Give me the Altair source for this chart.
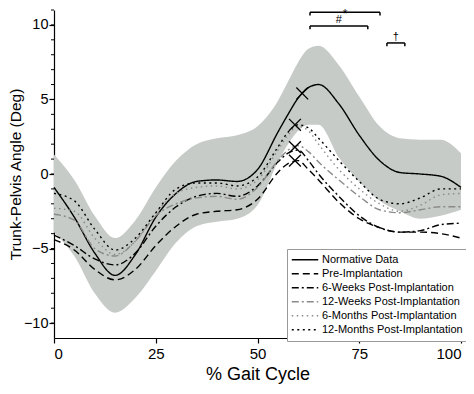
import altair as alt
import pandas as pd

# ---- data ----
x_pct = [0, 5, 10, 15, 20, 25, 30, 35, 40, 45, 50, 55, 57.5, 60, 62.5, 65, 70, 75, 80, 85, 90, 95, 100]

normative = [-0.9, -2.9, -5.3, -6.8, -5.4, -2.9, -1.3, -0.5, -0.4, -0.5, 0.3, 2.8, 4.0, 5.1, 5.8, 6.0, 4.7, 2.6, 0.9, 0.1, 0.0, -0.15, -0.9]
sd_upper = [1.3, -0.4, -2.8, -4.3, -3.1, -0.9, 0.9, 2.0, 2.4, 2.6, 3.2, 4.9, 6.2, 7.5, 8.4, 8.6, 7.3, 5.2, 3.2, 2.4, 2.3, 2.3, 1.4]
sd_lower = [-3.9, -5.5, -8.0, -9.3, -8.3, -6.5, -4.6, -3.5, -3.2, -3.0, -2.1, 0.8, 2.0, 2.9, 3.3, 3.3, 1.1, -0.5, -1.8, -2.5, -3.0, -2.8, -2.4]

pre_impl = [-4.4, -5.1, -6.4, -7.1, -6.4, -4.8, -3.5, -2.7, -2.5, -2.4, -1.7, 0.1, 0.7, 0.9, 0.3, -0.4, -1.9, -3.0, -3.6, -3.9, -3.9, -4.0, -4.3]
wk6 = [-4.1, -4.8, -5.7, -6.1, -5.3, -3.5, -2.2, -1.5, -1.3, -1.5, -0.8, 0.8, 1.4, 1.6, 0.9, 0.0, -1.5, -2.8, -3.6, -3.9, -3.8, -3.4, -3.3]
wk12 = [-2.7, -3.1, -5.0, -5.5, -4.5, -2.8, -2.0, -1.6, -1.5, -1.7, -0.9, 0.9, 1.6, 1.9, 1.5, 0.8, -0.4, -1.5, -2.4, -2.6, -2.4, -2.2, -2.2]
mo6 = [-2.3, -2.5, -4.3, -5.4, -4.5, -2.6, -1.3, -0.9, -0.8, -1.0, -0.4, 1.6, 2.6, 3.2, 2.9, 2.0, 0.3, -1.0, -2.0, -2.5, -2.1, -1.4, -1.3]
mo12 = [-1.3, -1.8, -3.7, -5.1, -4.3, -2.6, -1.0, -0.6, -0.6, -0.8, -0.2, 1.8, 2.8, 3.3, 3.1, 2.4, 0.9, -0.5, -1.7, -2.0, -1.6, -1.0, -1.0]

series_names = ["Normative Data", "Pre-Implantation", "6-Weeks Post-Implantation",
                "12-Weeks Post-Implantation", "6-Months Post-Implantation",
                "12-Months Post-Implantation"]
series_values = [normative, pre_impl, wk6, wk12, mo6, mo12]
series_colors = ["#000000", "#000000", "#000000", "#8a8a8a", "#8a8a8a", "#000000"]
series_dashes = [[1, 0], [7, 4], [7, 3, 2, 3], [7, 3, 2, 3], [1.5, 3.5], [2, 3.5]]

marker_x = [61, 59.2, 59.2, 59.2]
marker_y = [5.4, 3.3, 1.8, 0.9]

bracket_label = ["*", "#", "\u2020"]
bracket_start = [62.9, 62.9, 81.8]
bracket_end = [80.1, 77.1, 86.2]
bracket_y = [10.85, 9.93, 8.79]

y_minor = list(range(-10, 12))

# ---- tables ----
rows = []
for name, vals in zip(series_names, series_values):
    for xv, yv in zip(x_pct, vals):
        rows.append({"x": xv, "y": yv, "series": name})
lines_df = pd.DataFrame(rows)
band_df = pd.DataFrame({"x": x_pct, "upper": sd_upper, "lower": sd_lower})
marker_df = pd.DataFrame({"x": marker_x, "y": marker_y})
br_df = pd.DataFrame({"label": bracket_label, "x1": bracket_start, "x2": bracket_end,
                      "y": bracket_y})
br_df["ytick"] = br_df["y"] - 0.22
br_df["xm"] = (br_df["x1"] + br_df["x2"]) / 2
minor_df = pd.DataFrame({"v": y_minor})

FONT = "Liberation Sans"
xscale = alt.Scale(domain=[0, 100], nice=False, zero=False)
yscale = alt.Scale(domain=[-11, 11], nice=False, zero=False)

x_axis = alt.Axis(values=[0, 25, 50, 75, 100], title="% Gait Cycle", grid=False,
                  tickSize=5, labelPadding=3, labelFontSize=15, titleFontSize=18,
                  titleFontWeight="normal", titlePadding=4, labelFont=FONT, titleFont=FONT,
                  domainColor="black", tickColor="black", labelColor="black", titleColor="black")
y_axis = alt.Axis(values=[-10, -5, 0, 5, 10], title="Trunk-Pelvis Angle (Deg)", grid=False,
                  tickSize=5, labelPadding=1, labelFontSize=14.5, titleFontSize=15.5,
                  titleFontWeight="normal", titlePadding=0, labelFont=FONT, titleFont=FONT,
                  domainColor="black", tickColor="black", labelColor="black", titleColor="black")

band = alt.Chart(band_df).mark_area(color="#c6cbc8", interpolate="monotone").encode(
    x=alt.X("x:Q", scale=xscale, axis=x_axis),
    y=alt.Y("upper:Q", scale=yscale, axis=y_axis),
    y2="lower:Q",
)

lines = alt.Chart(lines_df).mark_line(interpolate="monotone", strokeWidth=1.4).encode(
    x=alt.X("x:Q", scale=xscale),
    y=alt.Y("y:Q", scale=yscale),
    color=alt.Color("series:N", sort=series_names,
                    scale=alt.Scale(domain=series_names, range=series_colors),
                    legend=alt.Legend(title=None)),
    strokeDash=alt.StrokeDash("series:N", sort=series_names,
                              scale=alt.Scale(domain=series_names, range=series_dashes),
                              legend=alt.Legend(title=None)),
)

markers = alt.Chart(marker_df).mark_point(
    shape="M-1,-1L1,1M-1,1L1,-1", filled=False, color="black", size=140, strokeWidth=1.3, opacity=1
).encode(x=alt.X("x:Q", scale=xscale), y=alt.Y("y:Q", scale=yscale))

minor = alt.Chart(minor_df).mark_rule(color="black", strokeWidth=1).encode(
    y=alt.Y("v:Q", scale=yscale), x=alt.value(-3), x2=alt.value(0))

br_h = alt.Chart(br_df).mark_rule(color="black", strokeWidth=1.5).encode(
    x=alt.X("x1:Q", scale=xscale), x2="x2:Q", y=alt.Y("y:Q", scale=yscale))
br_l = alt.Chart(br_df).mark_rule(color="black", strokeWidth=1.5).encode(
    x=alt.X("x1:Q", scale=xscale), y=alt.Y("y:Q", scale=yscale), y2="ytick:Q")
br_r = alt.Chart(br_df).mark_rule(color="black", strokeWidth=1.5).encode(
    x=alt.X("x2:Q", scale=xscale), y=alt.Y("y:Q", scale=yscale), y2="ytick:Q")
br_t = alt.Chart(br_df).transform_filter(alt.datum.label != "*").mark_text(
    font=FONT, fontSize=11, baseline="bottom", dy=-1, color="black").encode(
    x=alt.X("xm:Q", scale=xscale), y=alt.Y("y:Q", scale=yscale), text="label:N")
br_star = alt.Chart(br_df).transform_filter(alt.datum.label == "*").mark_text(
    font=FONT, fontSize=12, baseline="alphabetic", dy=6, color="black").encode(
    x=alt.X("xm:Q", scale=xscale), y=alt.Y("y:Q", scale=yscale), text="label:N")

chart = alt.layer(band, minor, lines, markers, br_h, br_l, br_r, br_t, br_star).properties(
    width=407, height=328,
    autosize=alt.AutoSizeParams(type="none"),
    padding={"left": 46, "top": 2, "right": 5, "bottom": 48},
).configure_view(stroke=None).configure_legend(
    orient="none", legendX=233, legendY=239,
    labelFont=FONT, labelFontSize=11, labelColor="black",
    symbolType="stroke", symbolSize=700, symbolStrokeWidth=1.3,
    clipHeight=13.5, rowPadding=0, labelOffset=3, padding=4,
    strokeColor="#999999", fillColor="white", cornerRadius=0,
).configure_axis(domainWidth=1.2, tickWidth=1.2)

chart.save("out.html", embed_options={"renderer": "svg", "actions": False})
